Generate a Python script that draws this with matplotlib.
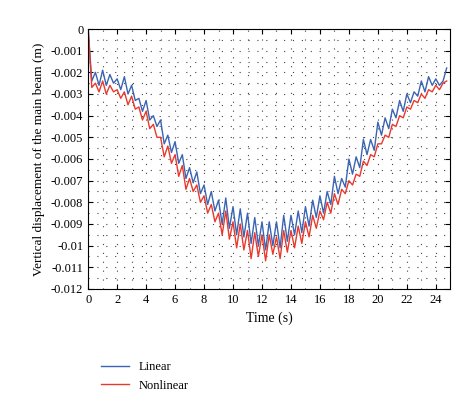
import numpy as np
import matplotlib
matplotlib.use("Agg")
import matplotlib.pyplot as plt

time = [i*0.25 for i in range(100)]
linear_mm = [0, -2.4, -2.0, -2.6, -1.9, -2.6, -2.1, -2.5, -2.3, -2.8, -2.2, -3.0, -2.6, -3.3, -3.2, -3.8,
             -3.3, -4.2, -4.0, -4.5, -4.2, -5.3, -4.9, -5.7, -5.2, -6.2, -5.8, -6.9, -6.4, -7.1, -6.6, -7.6,
             -7.2, -8.1, -7.5, -8.4, -7.9, -9.0, -7.8, -9.2, -8.2, -9.5, -8.3, -9.6, -8.5, -9.9, -8.7, -10.0,
             -8.9, -10.2, -8.9, -10.0, -8.9, -10.1, -8.6, -9.8, -8.6, -9.5, -8.4, -9.4, -8.2, -9.1, -7.9, -8.7,
             -7.7, -8.5, -7.5, -8.1, -6.8, -7.6, -6.9, -7.3, -6.0, -6.7, -5.9, -6.4, -5.1, -5.8, -5.1, -5.6,
             -4.3, -4.9, -4.1, -4.6, -3.7, -4.1, -3.3, -3.8, -3.0, -3.4, -2.9, -3.1, -2.4, -2.9, -2.2, -2.6,
             -2.3, -2.6, -2.4, -1.8]
nonlinear_mm = [0, -2.7, -2.5, -2.9, -2.4, -3.0, -2.6, -2.9, -2.8, -3.2, -2.9, -3.5, -3.1, -3.7, -3.6, -4.2,
                -3.8, -4.6, -4.4, -5.0, -5.0, -5.9, -5.4, -6.2, -5.8, -6.8, -6.3, -7.4, -6.9, -7.5, -7.2, -8.0,
                -7.7, -8.5, -8.1, -8.9, -8.5, -9.5, -8.4, -9.7, -8.9, -10.1, -9.0, -10.2, -9.3, -10.6, -9.4, -10.5,
                -9.5, -10.7, -9.5, -10.4, -9.6, -10.6, -9.3, -10.3, -9.3, -10.1, -9.1, -9.9, -8.9, -9.6, -8.6, -9.2,
                -8.4, -8.8, -8.0, -8.5, -7.6, -8.1, -7.4, -7.6, -7.0, -7.2, -6.7, -6.8, -6.1, -6.3, -5.8, -5.9,
                -5.3, -5.3, -4.9, -5.0, -4.4, -4.5, -4.0, -4.1, -3.6, -3.7, -3.3, -3.4, -3.0, -3.2, -2.8, -2.9,
                -2.6, -2.8, -2.5, -2.4]

linear = np.array(linear_mm)*1e-3
nonlinear = np.array(nonlinear_mm)*1e-3

plt.rcParams['font.family'] = ['Liberation Serif', 'DejaVu Serif']
fig = plt.figure(figsize=(4.74, 4.03), dpi=100)
ax = fig.add_axes([0.186, 0.283, 0.764, 0.645])
ax.plot(time, linear, color='#3a64b4', lw=1.0, label='Linear')
ax.plot(time, nonlinear, color='#e8392c', lw=1.0, label='Nonlinear')
ax.set_xlim(0, 25)
ax.set_ylim(-0.012, 0)
ax.set_xticks(range(0, 25, 2))
yt = np.arange(-0.012, 0.0001, 0.001)
ax.set_yticks(yt)
ax.set_yticklabels(['%g' % round(v, 3) for v in yt])
ax.set_xticks(np.arange(0, 25, 1), minor=True)
ax.set_yticks(np.arange(-0.012, 0, 0.0005), minor=True)
ax.grid(True, which='both', linestyle=(0, (1, 7)), color='#444444', lw=0.8)
ax.tick_params(which='both', direction='in', top=True, right=True, labelsize=9)
ax.tick_params(which='minor', length=0)
ax.set_xlabel('Time (s)', fontsize=10)
ax.set_ylabel('Vertical displacement of the main beam (m)', fontsize=9.5)
for s in ax.spines.values():
    s.set_linewidth(0.8)
fig.legend(loc='lower left', bbox_to_anchor=(0.19, 0.0), frameon=False, fontsize=9, handlelength=2.2)
fig.savefig('out.png', dpi=100)
